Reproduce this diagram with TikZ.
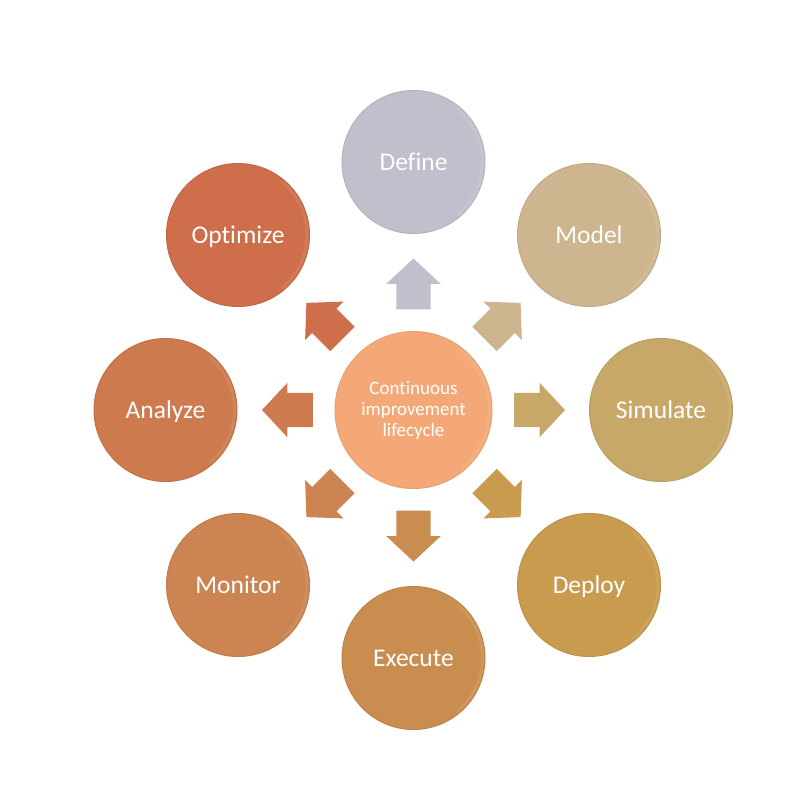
\documentclass[tikz,border=0pt]{standalone}
\usepackage{fontspec}
\setmainfont{Carlito}[Ligatures=NoCommon]
\usetikzlibrary{shapes.arrows,calc}
\definecolor{cDefine}{HTML}{BFC0CB}
\definecolor{cModel}{HTML}{CDB58F}
\definecolor{cSimulate}{HTML}{C8A868}
\definecolor{cDeploy}{HTML}{C89B4E}
\definecolor{cExecute}{HTML}{C98E4F}
\definecolor{cMonitor}{HTML}{CB8452}
\definecolor{cAnalyze}{HTML}{CC7A4E}
\definecolor{cOptimize}{HTML}{CE6E4B}
\definecolor{cCenter}{HTML}{F4A877}
\tikzset{
  x=1pt,y=-1pt,
  stage/.style={circle,minimum size=143pt,inner sep=0pt,fill=#1,draw=#1!94!black,line width=1pt,
     text=white,font=\fontsize{25.5}{27}\selectfont,text height=16.5pt,text depth=0pt},
  hubnode/.style={circle,minimum size=157pt,inner sep=0pt,fill=#1,draw=#1!95!black,line width=1pt,
     text=white,font=\fontsize{19}{21}\selectfont,align=center},
  flowarrow/.style={single arrow,draw=none,fill=#1,inner sep=0pt,outer sep=0pt,text height=17pt,text depth=17pt,
     text width=1pt,minimum height=51pt,
     single arrow head extend=10pt,single arrow tip angle=94,single arrow head indent=0pt,anchor=center},
  rim/.style={line width=3pt,draw=#1!72!white,opacity=.3,line cap=round},
}
\begin{document}
\begin{tikzpicture}
\useasboundingbox (0,0) rectangle (800,800);
\fill[white] (0,0) rectangle (800,800);
\coordinate (hubc) at (413.5,410);
% stage circles
\node[stage=cDefine]   (define)   at (413.5,162) {Define};
\node[stage=cModel]    (model)    at (589,235)   {Model};
\node[stage=cSimulate] (simulate) at (661,410)   {Simulate};
\node[stage=cDeploy]   (deploy)   at (589,585)   {Deploy};
\node[stage=cExecute]  (execute)  at (413.5,658) {Execute};
\node[stage=cMonitor]  (monitor)  at (238,585)   {Monitor};
\node[stage=cAnalyze]  (analyze)  at (165.5,410) {Analyze};
\node[stage=cOptimize] (optimize) at (238,235)   {Optimize};
\node[hubnode=cCenter] (hub) at (hubc) {Continuous\\improvement\\lifecycle};
% bevel highlights
\foreach \n/\c in {define/cDefine,model/cModel,simulate/cSimulate,deploy/cDeploy,execute/cExecute,monitor/cMonitor,analyze/cAnalyze,optimize/cOptimize}
  \draw[rim=\c] ($(\n.center)+(-50:69)$) arc[start angle=-50,end angle=50,radius=69];
\draw[rim=cCenter] ($(hub.center)+(-50:76)$) arc[start angle=-50,end angle=50,radius=76];
% arrows
\node[flowarrow=cDefine,  rotate=90]  (adefine)   at ($(hubc)+(0,-118)$) {};
\node[flowarrow=cModel,   rotate=45]  (amodel)    at ($(hubc)+(83.4,-83.4)$) {};
\node[flowarrow=cSimulate,rotate=0]   (asimulate) at ($(hubc)+(118,0)$) {};
\node[flowarrow=cDeploy,  rotate=-45] (adeploy)   at ($(hubc)+(83.4,83.4)$) {};
\node[flowarrow=cExecute, rotate=-90] (aexecute)  at ($(hubc)+(0,118)$) {};
\node[flowarrow=cMonitor, rotate=-135](amonitor)  at ($(hubc)+(-83.4,83.4)$) {};
\node[flowarrow=cAnalyze, rotate=180] (aanalyze)  at ($(hubc)+(-118,0)$) {};
\node[flowarrow=cOptimize,rotate=135] (aoptimize) at ($(hubc)+(-83.4,-83.4)$) {};
\end{tikzpicture}
\end{document}
